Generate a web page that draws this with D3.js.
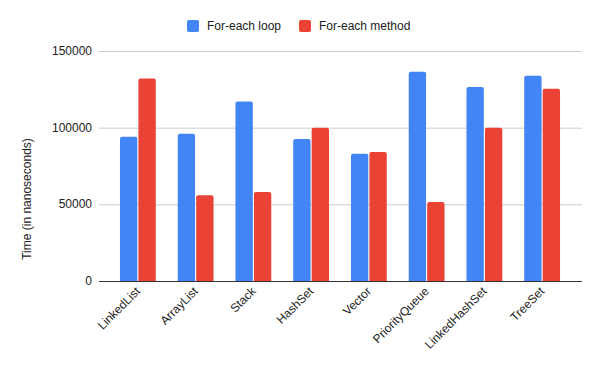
<!DOCTYPE html>
<html>
<head>
<meta charset="utf-8">
<script src="https://cdn.jsdelivr.net/npm/d3@7"></script>
<style>
  body { margin: 0; background: #fff; }
  text { font-family: Arial, "Liberation Sans", sans-serif; }
</style>
</head>
<body>
<div id="container"></div>
<script>
// data
var categories = ['LinkedList', 'ArrayList', 'Stack', 'HashSet', 'Vector', 'PriorityQueue', 'LinkedHashSet', 'TreeSet']
var seriesNames = ['For-each loop', 'For-each method']
var loopValues = [94000, 96000, 117000, 92600, 83000, 136500, 126500, 133800]
var methodValues = [132000, 56000, 58000, 100000, 84200, 51500, 100000, 125400]
var yTicks = [0, 50000, 100000, 150000]
var colors = ['#4285F4', '#EA4335']

var WIDTH = 600
var HEIGHT = 371

var svg = d3.select('div#container').append('svg')
  .attr('width', WIDTH)
  .attr('height', HEIGHT)

var y = d3.scaleLinear().domain([0, 150000]).range([281, 51])

var x = d3.scaleBand()
  .domain(categories)
  .range([109, 571])
  .paddingInner(0.38)
  .paddingOuter(0.19)

var x1 = d3.scaleBand()
  .domain([0, 1])
  .range([0, x.bandwidth()])
  .paddingInner(0.06)

// gridlines
svg.append('g').selectAll('line')
  .data(yTicks.filter(function (d) { return d > 0 }))
  .enter().append('line')
  .attr('x1', 99).attr('x2', 582)
  .attr('y1', function (d) { return y(d) + 0.5 })
  .attr('y2', function (d) { return y(d) + 0.5 })
  .attr('stroke', '#ccc')

// y labels
svg.append('g').selectAll('text')
  .data(yTicks)
  .enter().append('text')
  .attr('x', 92)
  .attr('y', function (d) { return y(d) + 4 })
  .attr('text-anchor', 'end')
  .attr('font-size', 12)
  .attr('fill', '#222')
  .text(function (d) { return d })

svg.append('text')
  .attr('transform', 'translate(31,199) rotate(-90)')
  .attr('text-anchor', 'middle')
  .attr('font-size', 12)
  .attr('fill', '#222')
  .text('Time (in nanoseconds)')

// rounded-top bar path
function barPath(x0, w, top, bottom) {
  var r = Math.min(2, (bottom - top) / 2)
  return 'M' + x0 + ',' + bottom +
    'V' + (top + r) +
    'Q' + x0 + ',' + top + ' ' + (x0 + r) + ',' + top +
    'H' + (x0 + w - r) +
    'Q' + (x0 + w) + ',' + top + ' ' + (x0 + w) + ',' + (top + r) +
    'V' + bottom + 'Z'
}

var allSeries = [loopValues, methodValues]
allSeries.forEach(function (vals, s) {
  svg.append('g').selectAll('path')
    .data(vals)
    .enter().append('path')
    .attr('fill', colors[s])
    .attr('d', function (d, i) {
      return barPath(x(categories[i]) + x1(s), x1.bandwidth(), y(d), y(0))
    })
})

// baseline
svg.append('line')
  .attr('x1', 99).attr('x2', 582)
  .attr('y1', 281.5).attr('y2', 281.5)
  .attr('stroke', '#333')

// x labels
svg.append('g').selectAll('text')
  .data(categories)
  .enter().append('text')
  .attr('transform', function (d) {
    return 'translate(' + (x(d) + x.bandwidth() / 2 + 3) + ',292) rotate(-45)'
  })
  .attr('text-anchor', 'end')
  .attr('font-size', 12)
  .attr('fill', '#222')
  .text(function (d) { return d })

// legend
var legendX = [187, 299]
seriesNames.forEach(function (name, s) {
  svg.append('rect')
    .attr('x', legendX[s]).attr('y', 20)
    .attr('width', 12).attr('height', 12)
    .attr('rx', 2)
    .attr('fill', colors[s])
  svg.append('text')
    .attr('x', legendX[s] + 20).attr('y', 30)
    .attr('font-size', 12)
    .attr('fill', '#222')
    .text(name)
})
</script>
</body>
</html>
